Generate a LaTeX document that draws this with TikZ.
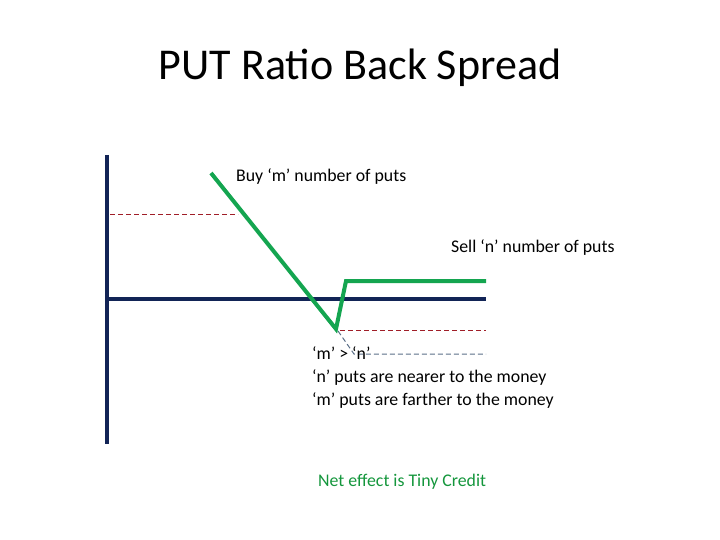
\documentclass[tikz,border=0pt]{standalone}
\usepackage{fontspec}
\setmainfont{Carlito}
\definecolor{navy}{RGB}{18,36,86}
\definecolor{grn}{RGB}{20,165,80}
\definecolor{dred}{RGB}{160,30,40}
\definecolor{dgray}{RGB}{90,110,135}
\definecolor{netg}{RGB}{20,150,60}
\tikzset{lbl/.style={anchor=west,inner sep=0pt,font=\fontsize{17.8}{21}\selectfont}}
\begin{document}
\begin{tikzpicture}[x=1pt,y=-1pt]
\useasboundingbox (0,0) rectangle (720,540);
\node (title) at (360,68) {\fontsize{44}{50}\selectfont PUT Ratio Back Spread};
\coordinate (ytop) at (107,155); \coordinate (ybot) at (107,444);
\coordinate (xl) at (107,299); \coordinate (xr) at (486,299);
\draw[navy,line width=4pt] (ytop) -- (ybot);
\draw[navy,line width=4pt] (xl) -- (xr);
\draw[dred,dash pattern=on 5pt off 3pt,line width=1pt] (110,215) -- (238,215);
\draw[dred,dash pattern=on 5pt off 3pt,line width=1pt] (340,330) -- (486,330);
\draw[dgray,dash pattern=on 5pt off 3pt,line width=1pt] (338,331) -- (354,354) -- (486,354);
\coordinate (g1) at (211,173); \coordinate (g2) at (336,329);
\coordinate (g3) at (346,281); \coordinate (g4) at (486,281);
\draw[grn,line width=4pt,line join=miter] (g1) -- (g2) -- (g3) -- (g4);
\node[lbl] (buy) at (236,177) {Buy ‘m’ number of puts};
\node[lbl] (sell) at (451,248) {Sell ‘n’ number of puts};
\node[lbl,align=left,anchor=base west,font=\fontsize{17.8}{23}\selectfont] (notes) at (312,405) {‘m’ > ‘n’\\‘n’ puts are nearer to the money\\‘m’ puts are farther to the money};
\node[lbl,text=netg] (net) at (318,482) {Net effect is Tiny Credit};
\end{tikzpicture}
\end{document}
